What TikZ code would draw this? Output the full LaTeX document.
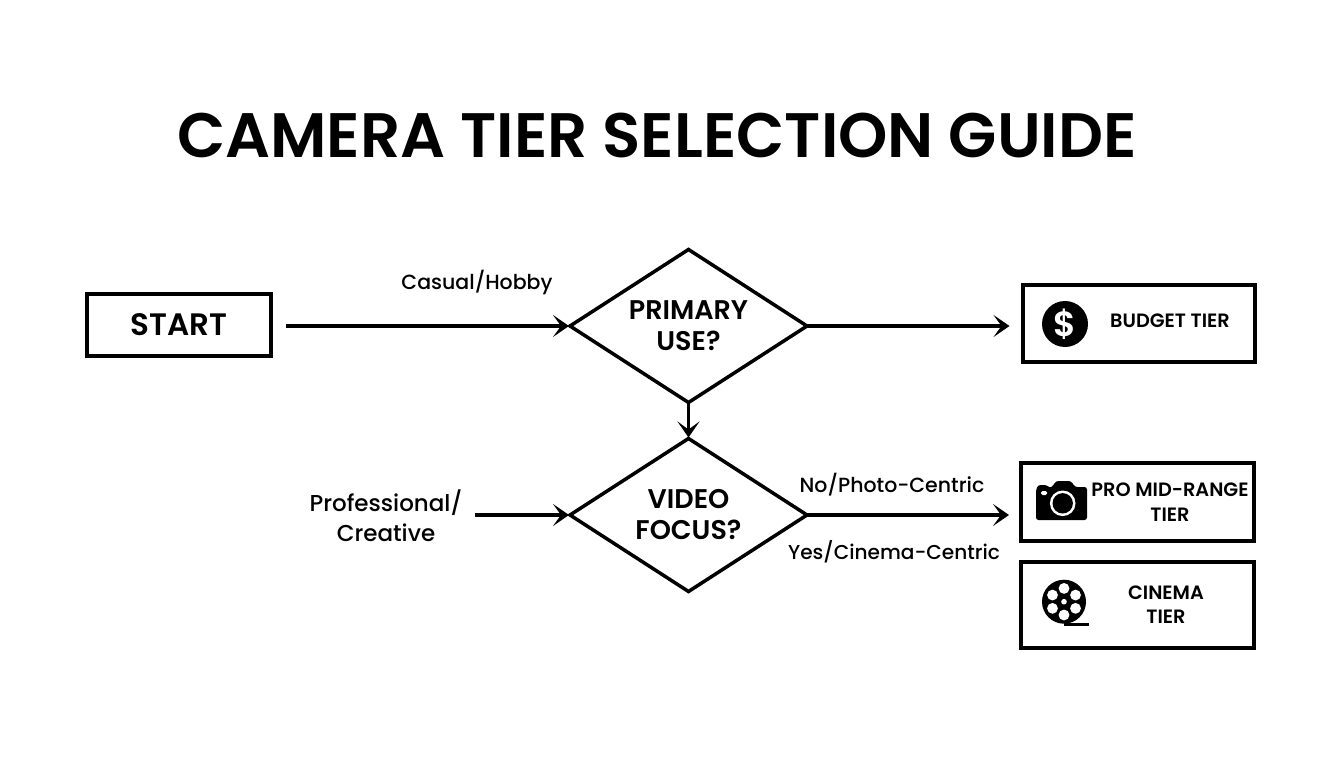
\documentclass[tikz,border=0pt]{standalone}
\usepackage{fontspec}
\usetikzlibrary{shapes.geometric,arrows.meta}
\setmainfont{Poppins}
\newfontfamily\medfont{Poppins Medium}
\newfontfamily\semifont{Poppins SemiBold}
\tikzset{
  boxnode/.style={draw=black,line width=4pt,fill=white,inner sep=0pt,outer sep=0pt},
  decision/.style={draw=black,line width=3.5pt,diamond,shape aspect=1.55,inner sep=0pt,outer sep=0pt,minimum width=237pt,minimum height=153pt,align=center,font=\fontsize{27}{31}\semifont},
  flow/.style={draw=black,line width=3.2pt,-{Stealth[length=16pt,width=22pt,inset=8pt]}},
  lab/.style={inner sep=0pt,align=center,font=\fontsize{20.5}{30}\medfont},
  tier/.style={inner sep=0pt,align=center,font=\fontsize{19.3}{24.5}\semifont},
}
\begin{document}
\begin{tikzpicture}[x=1pt,y=-1pt]
\useasboundingbox (0,0) rectangle (1344,768);
\fill[white] (0,0) rectangle (1344,768);
\node[inner sep=0pt,font=\fontsize{62.8}{70}\semifont] (title) at (657,135) {CAMERA TIER SELECTION GUIDE};
\node[boxnode,minimum width=184pt,minimum height=62pt,font=\fontsize{31}{34}\semifont] (start) at (179,325) {START};
\node[decision] (primary) at (688.5,326) {PRIMARY\\USE?};
\node[decision] (video) at (688.5,515) {VIDEO\\FOCUS?};
\node[boxnode,minimum width=232.5pt,minimum height=77pt] (budget) at (1138.75,323) {};
\node[boxnode,minimum width=233pt,minimum height=78pt] (pro) at (1137.5,502) {};
\node[boxnode,minimum width=233pt,minimum height=86pt] (cinema) at (1137.5,605) {};
\node[tier] (budgettext) at (1170,321) {BUDGET TIER};
\node[tier] (protext) at (1170,502) {PRO MID-RANGE\\TIER};
\node[tier] (cinematext) at (1166,604.5) {CINEMA\\TIER};
\node[lab] (casual) at (477,282) {Casual/Hobby};
\node[lab,font=\fontsize{23}{30}\medfont] (prof) at (386,516) {Professional/\\Creative};
\node[lab] (nophoto) at (892,485) {No/Photo-Centric};
\node[lab,font=\fontsize{20.1}{30}\medfont] (yescine) at (894,552) {Yes/Cinema-Centric};
% connectors
\draw[flow,shorten <=15pt,shorten >=1pt] (start.east |- primary.west) -- (primary.west);
\draw[flow,shorten >=13pt] (primary.east) -- (budget.west |- primary.east);
\draw[flow,shorten >=1pt] (primary.south) -- (video.north);
\draw[flow,shorten <=12pt,shorten >=1pt] (prof.east |- video.west) -- (video.west);
\draw[flow,shorten >=12pt] (video.east) -- (pro.west |- video.east);
% dollar icon
\node[circle,fill=black,minimum size=46pt,inner sep=0pt,text=white,font=\fontsize{35}{36}\semifont] (dollar) at (1065,324) {\$};
% camera icon
\fill[black,rounded corners=2.5pt] (1036,490) -- (1038,485) -- (1047,485) -- (1049,488) -- (1052,487) -- (1056,481) -- (1071,481) -- (1075,487) -- (1087,487) -- (1087,520) -- (1036,520) -- cycle;
\fill[white] (1062.7,503.3) circle (12.8);
\fill[black] (1062.7,503.3) circle (10.2);
\fill[white,rounded corners=1.5pt] (1041,491) rectangle (1047,495);
% reel icon
\fill[black] (1064,601.7) circle (22);
\foreach \a in {90,150,210,270,330,30}
  \fill[white] (1064,601.7) ++(\a:13.3) circle (5.4);
\fill[white] (1064,601.7) circle (2.8);
\fill[black] (1064,622.5) rectangle (1088.5,625.5);
\end{tikzpicture}
\end{document}
